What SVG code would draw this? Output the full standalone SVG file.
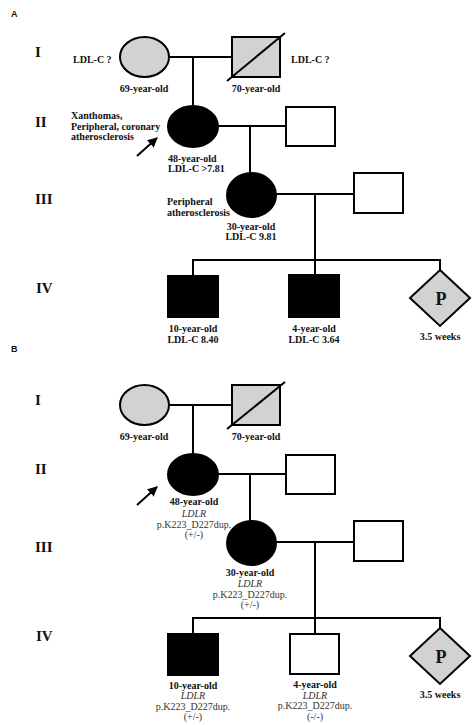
<svg xmlns="http://www.w3.org/2000/svg" width="474" height="725" viewBox="0 0 474 725">
<style>
.ln{stroke:#000;stroke-width:2;fill:none}
.sym{stroke:#000;stroke-width:2}
.aff{fill:#000}
.unk{fill:#d2d2d2}
.una{fill:#fff}
.t{font-family:"Liberation Serif",serif;font-size:10px;font-weight:bold;fill:#111}
.r{font-family:"Liberation Serif",serif;font-size:10px;fill:#333}
.i{font-family:"Liberation Serif",serif;font-size:10px;font-style:italic;fill:#333}
.c{text-anchor:middle}
.gen{font-family:"Liberation Serif",serif;font-size:15px;font-weight:bold;fill:#111}
.pan{font-family:"Liberation Sans",sans-serif;font-size:9px;font-weight:bold;fill:#111}
.p{font-family:"Liberation Serif",serif;font-size:18px;font-weight:bold;fill:#111;text-anchor:middle}
</style>
<defs>
<marker id="ah" viewBox="0 0 10 10" refX="9" refY="5" markerWidth="5" markerHeight="5" orient="auto">
<path d="M0,0 L10,5 L0,10 z" fill="#000"/>
</marker>
</defs>
<rect width="474" height="725" fill="#fff"/>

<!-- Panel A -->
<text class="pan" x="11" y="17">A</text>
<g id="genA">
<text class="gen" x="35" y="57">I</text>
<text class="gen" x="35" y="127">II</text>
<text class="gen" x="35" y="204">III</text>
<text class="gen" x="36" y="293">IV</text>
</g>
<g id="connA">
<path class="ln" d="M169,57 H232 M193,57 V106"/>
<path class="ln" d="M218,126 H286 M250,126 V173"/>
<path class="ln" d="M276,194 H354 M315,194 V260"/>
<path class="ln" d="M193,276 V260 H440 V270 M315,260 V275"/>
<line class="ln" x1="137" y1="156" x2="157" y2="138" marker-end="url(#ah)"/>
</g>
<g id="A_I1">
<ellipse class="sym unk" cx="144.5" cy="57" rx="24.5" ry="20"/>
<text class="t" x="73" y="63">LDL-C ?</text>
<text class="t c" x="144" y="92">69-year-old</text>
</g>
<g id="A_I2">
<rect class="sym unk" x="232" y="37" width="48" height="40"/>
<line class="ln" x1="227" y1="81" x2="285" y2="33"/>
<text class="t" x="291" y="63">LDL-C ?</text>
<text class="t c" x="256" y="92">70-year-old</text>
</g>
<g id="A_II1">
<ellipse class="sym aff" cx="193" cy="126.5" rx="25" ry="20.5"/>
<text class="t" x="71" y="119">Xanthomas,</text>
<text class="t" x="71" y="130">Peripheral, coronary</text>
<text class="t" x="71" y="140">atherosclerosis</text>
<text class="t" x="168" y="162">48-year-old</text>
<text class="t" x="168" y="172">LDL-C &gt;7.81</text>
</g>
<g id="A_II2">
<rect class="sym una" x="286" y="107" width="49" height="39"/>
</g>
<g id="A_III1">
<ellipse class="sym aff" cx="251.5" cy="195" rx="24.5" ry="22"/>
<text class="t" x="167" y="205">Peripheral</text>
<text class="t" x="167" y="216">atherosclerosis</text>
<text class="t c" x="251" y="230">30-year-old</text>
<text class="t c" x="251" y="240">LDL-C 9.81</text>
</g>
<g id="A_III2">
<rect class="sym una" x="354" y="173" width="49" height="40"/>
</g>
<g id="A_IV1">
<rect class="sym aff" x="168" y="276" width="50" height="41"/>
<text class="t c" x="193" y="332">10-year-old</text>
<text class="t c" x="193" y="343">LDL-C 8.40</text>
</g>
<g id="A_IV2">
<rect class="sym aff" x="289" y="275" width="50" height="42"/>
<text class="t c" x="314" y="332">4-year-old</text>
<text class="t c" x="314" y="343">LDL-C 3.64</text>
</g>
<g id="A_IV3">
<polygon class="sym unk" points="440,270 470,298 440,326 410,298"/>
<text class="p" x="441" y="305">P</text>
<text class="t c" x="440" y="340">3.5 weeks</text>
</g>

<!-- Panel B -->
<text class="pan" x="11" y="352">B</text>
<g id="genB">
<text class="gen" x="35" y="405">I</text>
<text class="gen" x="35" y="474">II</text>
<text class="gen" x="35" y="552">III</text>
<text class="gen" x="36" y="641">IV</text>
</g>
<g id="connB">
<path class="ln" d="M169,405 H232 M193,405 V454"/>
<path class="ln" d="M218,474 H286 M250,474 V521"/>
<path class="ln" d="M276,542 H354 M315,542 V618"/>
<path class="ln" d="M193,634 V618 H440 V628 M315,618 V634"/>
<line class="ln" x1="137" y1="505" x2="157" y2="487" marker-end="url(#ah)"/>
</g>
<g id="B_I1">
<ellipse class="sym unk" cx="144.5" cy="405" rx="24.5" ry="20"/>
<text class="t c" x="144" y="440">69-year-old</text>
</g>
<g id="B_I2">
<rect class="sym unk" x="232" y="385" width="48" height="40"/>
<line class="ln" x1="227" y1="429" x2="285" y2="382"/>
<text class="t c" x="256" y="440">70-year-old</text>
</g>
<g id="B_II1">
<ellipse class="sym aff" cx="193" cy="474.5" rx="25" ry="20.5"/>
<text class="t c" x="194" y="505">48-year-old</text>
<text class="i c" x="194" y="517">LDLR</text>
<text class="r c" x="194" y="528">p.K223_D227dup.</text>
<text class="r c" x="194" y="538">(+/-)</text>
</g>
<g id="B_II2">
<rect class="sym una" x="286" y="455" width="49" height="39"/>
</g>
<g id="B_III1">
<ellipse class="sym aff" cx="251.5" cy="543" rx="24.5" ry="22"/>
<text class="t c" x="250" y="576">30-year-old</text>
<text class="i c" x="250" y="587">LDLR</text>
<text class="r c" x="250" y="598">p.K223_D227dup.</text>
<text class="r c" x="250" y="608">(+/-)</text>
</g>
<g id="B_III2">
<rect class="sym una" x="354" y="521" width="49" height="40"/>
</g>
<g id="B_IV1">
<rect class="sym aff" x="168" y="634" width="50" height="41"/>
<text class="t c" x="193" y="689">10-year-old</text>
<text class="i c" x="193" y="699">LDLR</text>
<text class="r c" x="193" y="710">p.K223_D227dup.</text>
<text class="r c" x="193" y="720">(+/-)</text>
</g>
<g id="B_IV2">
<rect class="sym una" x="290" y="634" width="49" height="40"/>
<text class="t c" x="315" y="688">4-year-old</text>
<text class="i c" x="315" y="699">LDLR</text>
<text class="r c" x="315" y="709">p.K223_D227dup.</text>
<text class="r c" x="315" y="720">(-/-)</text>
</g>
<g id="B_IV3">
<polygon class="sym unk" points="440,628 470,656 440,684 410,656"/>
<text class="p" x="441" y="663">P</text>
<text class="t c" x="440" y="698">3.5 weeks</text>
</g>
</svg>
